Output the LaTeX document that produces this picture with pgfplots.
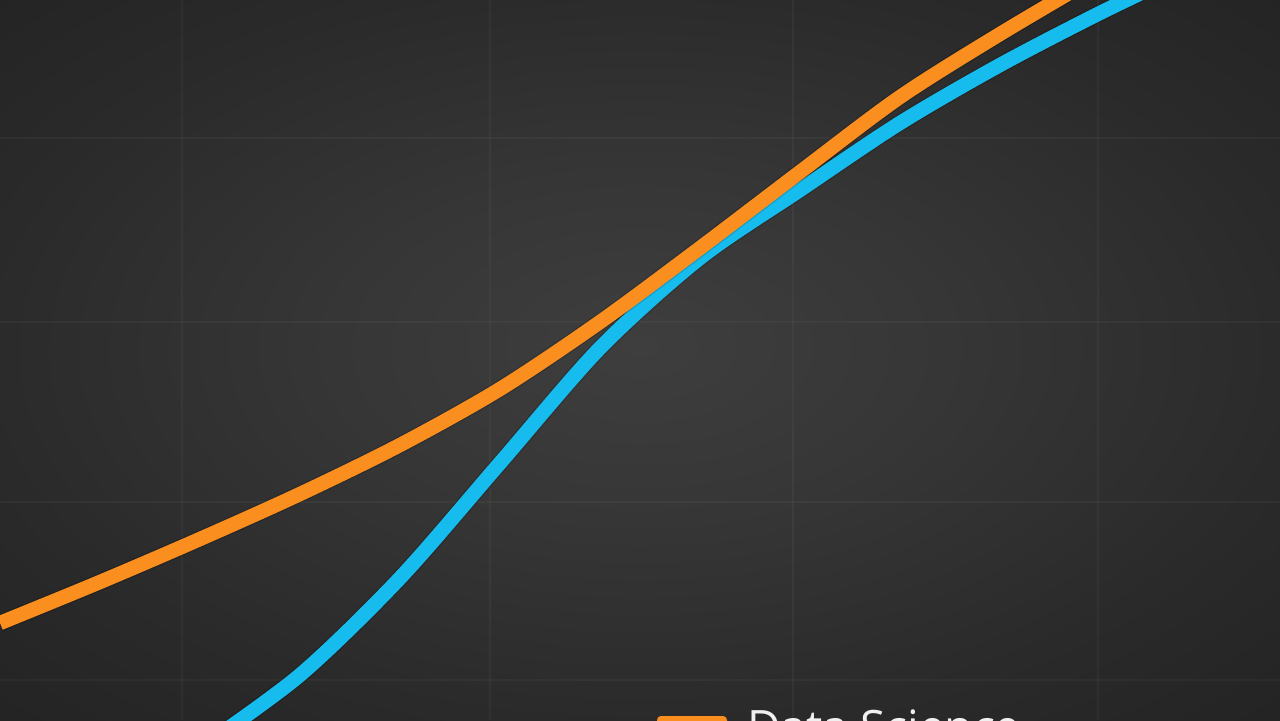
\documentclass[border=0pt]{standalone}
\usepackage{pgfplots}
\pgfplotsset{compat=1.18}
\usepackage{fontspec}
\setmainfont{Open Sans}
\definecolor{lineorange}{RGB}{250,142,30}
\definecolor{lineblue}{RGB}{22,188,238}
\definecolor{bga}{RGB}{62,62,62}
\definecolor{bgb}{RGB}{54,54,54}
\definecolor{bgc}{RGB}{42,42,42}
\definecolor{bgd}{RGB}{33,33,33}
\definecolor{bge}{RGB}{26,26,26}
\pgfdeclareradialshading{bgshade}{\pgfpoint{0bp}{1bp}}{%
  color(0bp)=(bga); color(12bp)=(bgb); color(26bp)=(bgc); color(40bp)=(bgd); color(52bp)=(bge); color(80bp)=(bge)}

\pgfplotstableread{
x y
0 97
100 138
200 181
300 226
400 275
500 331
600 398
700 472
800 548
900 623
1000 686
1100 745
}\orangedata

\pgfplotstableread{
x y
200 -28
300 45
400 142
500 257
600 372
700 462
800 530
900 597
1000 655
1100 707
1200 755
}\bluedata

\begin{document}
\begin{tikzpicture}
\useasboundingbox (0,0) rectangle (640pt,360pt);
\shade[shading=bgshade] (0,0) rectangle (640pt,360pt);
\begin{axis}[
  at={(0,0)}, anchor=south west,
  scale only axis, width=640pt, height=360pt,
  xmin=0, xmax=1280, ymin=0, ymax=720,
  axis line style={draw=none},
  tick style={draw=none},
  xtick={182,490,793,1098},
  ytick={40,218,398,582},
  xticklabels={}, yticklabels={},
  grid=major,
  grid style={white, opacity=0.035, line width=1.2pt},
  clip=true,
]
\addplot[black, opacity=0.15, line width=8.5pt, smooth] table[x=x,y=y] {\bluedata};
\addplot[lineblue, line width=7.2pt, smooth] table[x=x,y=y] {\bluedata};
\addplot[black, opacity=0.15, line width=8.5pt, smooth] table[x=x,y=y] {\orangedata};
\addplot[lineorange, line width=7.2pt, smooth] table[x=x,y=y] {\orangedata};
\end{axis}
\fill[lineorange, rounded corners=2pt] (328.5pt,2pt) rectangle (363.5pt,-12pt);
\node[anchor=base west, inner sep=0pt, text=white!94!black, font=\fontsize{23}{28}\selectfont] at (373.5pt,-11.5pt) {Data Science};
\end{tikzpicture}
\end{document}
